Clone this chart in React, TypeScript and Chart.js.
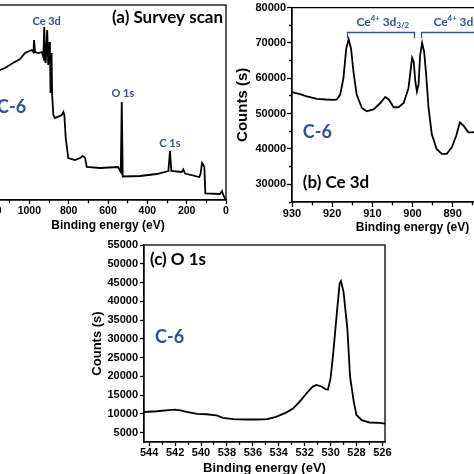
import { useEffect, useRef } from 'react';
import { Chart, registerables } from 'chart.js';

Chart.register(...registerables);

// (a) Survey scan: binding energy (eV) and counts
const surveyEnergy = [
  1200, 1149, 1124, 1083, 1047, 1022, 988, 979, 976, 971, 954, 937, 929, 924, 920, 917, 909, 904, 900, 895,
  892, 887, 884, 878, 870, 835, 827, 822, 815, 802, 768, 742, 729, 717, 708, 641, 549, 535, 530, 525,
  437, 352, 293, 285, 278, 225, 217, 208, 136, 129, 122, 115, 110, 105, 31, 20, 14, 5, 0,
];
const surveyCounts = [
  250000, 260000, 264000, 274000, 282000, 294000, 300000, 296000, 320000, 296000, 294000, 296000, 286000, 346000, 280000, 274000, 340000, 270000, 316000, 296000,
  214000, 294000, 210000, 170000, 164000, 170000, 176000, 170000, 124000, 84000, 80000, 84000, 88000, 85000, 66000, 64000, 66000, 56000, 196000, 47000,
  48000, 52000, 58000, 98000, 58000, 56000, 61000, 53000, 46000, 53000, 74000, 70000, 66000, 13000, 12000, 18000, 10000, 3000, 1500,
];
const surveyTicksX = [0, 100, 200, 300, 400, 500, 600, 700, 800, 900, 1000, 1100, 1200];

// (b) Ce 3d region
const ceEnergy = [
  930, 929.8, 928, 926.3, 923.8, 921.5, 919.6, 918.8, 918.0, 917.2, 916.5, 915.9, 915.3, 914.7, 913.9, 912.6, 911.4, 909.7, 908.0, 906.8,
  905.9, 904.7, 903.5, 902.2, 901.0, 900.1, 899.7, 899.3, 898.9, 898.5, 898.1, 897.6, 897.1, 896.6, 896.0, 895.2, 894.0, 892.7, 891.5, 890.2,
  889.1, 888.2, 887.3, 886.1, 885.3, 884, 882, 880, 876, 872, 870,
];
const ceCounts = [
  56100, 56100, 55500, 54900, 54200, 54000, 53900, 54000, 55400, 60000, 68400, 71000, 68400, 61900, 55400, 51600, 50700, 51200, 53000, 54700,
  54000, 51800, 51800, 53000, 57200, 65800, 64700, 59100, 56300, 58200, 66500, 70000, 67500, 61000, 51600, 44200, 40000, 38600, 38600, 40500,
  43800, 47500, 46600, 44700, 44700, 44800, 45200, 44500, 43000, 42000, 41500,
];
const ceTicksX = [870, 875, 880, 885, 890, 895, 900, 905, 910, 915, 920, 925, 930];
const ceTicksY = [25000, 30000, 35000, 40000, 45000, 50000, 55000, 60000, 65000, 70000, 75000, 80000];

// (c) O 1s region
const oEnergy = [
  544.4, 543.4, 542.5, 542.0, 541.6, 541.1, 540.3, 539.6, 538.8, 538.3, 537.5, 536.5, 535.7, 534.9, 534.2, 533.4, 532.9, 532.4, 531.8, 531.4,
  531.1, 530.7, 530.4, 530.2, 530.0, 529.8, 529.5, 529.3, 529.2, 529.0, 528.7, 528.5, 528.2, 528.0, 527.6, 527.0, 526.2, 525.8,
];
const oCounts = [
  10500, 10700, 11000, 11150, 10900, 10500, 10000, 9900, 9600, 8950, 8600, 8500, 8500, 8600, 9200, 10400, 11400, 13200, 15700, 17200,
  17700, 17300, 16600, 16500, 19500, 26000, 37500, 44800, 45400, 42500, 32500, 20000, 13000, 9700, 8300, 7700, 7600, 7400,
];
const oTicksX = [526, 527, 528, 529, 530, 531, 532, 533, 534, 535, 536, 537, 538, 539, 540, 541, 542, 543, 544];
const oTicksY = [5000, 10000, 15000, 20000, 25000, 30000, 35000, 40000, 45000, 50000, 55000];

const BLUE = '#2E5496';
const TICK_FONT = 'Liberation Sans, Arial, sans-serif';
const NOTE_FONT = 'Lato, "Open Sans", sans-serif';

type Part = { t: string; s?: number; dy?: number };
type Note =
  | { kind: 'text'; parts: Part[]; x: number; y: number; size: number; color: string; align: 'left' | 'center' | 'right' }
  | { kind: 'bracket'; x0: number; x1: number; y: number; y2: number; color: string };

const surveyNotes: Note[] = [
  { kind: 'text', parts: [{ t: 'Ce 3d' }], x: 912, y: 358000, size: 11, color: BLUE, align: 'center' },
  { kind: 'text', parts: [{ t: 'O 1s' }], x: 524, y: 214000, size: 11, color: BLUE, align: 'center' },
  { kind: 'text', parts: [{ t: 'C 1s' }], x: 285, y: 114000, size: 11, color: BLUE, align: 'center' },
  { kind: 'text', parts: [{ t: 'C-6' }], x: 1164, y: 185000, size: 18, color: BLUE, align: 'left' },
  { kind: 'text', parts: [{ t: '(a) Survey scan' }], x: 15, y: 364000, size: 17, color: '#000', align: 'right' },
];

const ceNotes: Note[] = [
  { kind: 'bracket', x0: 916.3, x1: 899.7, y: 73000, y2: 71300, color: BLUE },
  { kind: 'bracket', x0: 898.0, x1: 876, y: 73000, y2: 71300, color: BLUE },
  {
    kind: 'text',
    parts: [{ t: 'Ce' }, { t: '4+', s: 0.65, dy: -4 }, { t: ' 3d' }, { t: '3/2', s: 0.65, dy: 3 }],
    x: 907.4, y: 75800, size: 12, color: BLUE, align: 'center',
  },
  {
    kind: 'text',
    parts: [{ t: 'Ce' }, { t: '4+', s: 0.65, dy: -4 }, { t: ' 3d' }, { t: '5/2', s: 0.65, dy: 3 }],
    x: 894.8, y: 75800, size: 12, color: BLUE, align: 'left',
  },
  { kind: 'text', parts: [{ t: 'C-6' }], x: 927.3, y: 44800, size: 18, color: BLUE, align: 'left' },
  { kind: 'text', parts: [{ t: '(b) Ce 3d' }], x: 927.3, y: 30450, size: 17, color: '#000', align: 'left' },
];

const oNotes: Note[] = [
  { kind: 'text', parts: [{ t: '(c) O 1s' }], x: 543.94, y: 51000, size: 17, color: '#000', align: 'left' },
  { kind: 'text', parts: [{ t: 'C-6' }], x: 543.55, y: 30480, size: 18, color: BLUE, align: 'left' },
];

const framePlugin = {
  id: 'frame',
  afterDatasetsDraw(chart: any) {
    const { ctx, chartArea: a } = chart;
    ctx.save();
    ctx.strokeStyle = '#000';
    ctx.lineWidth = 1.3;
    ctx.strokeRect(a.left, a.top, a.right - a.left, a.bottom - a.top);
    ctx.restore();
  },
};

const notesPlugin = {
  id: 'notes',
  afterDraw(chart: any, _args: any, opts: any) {
    const items: Note[] = opts.items || [];
    const { ctx } = chart;
    const xs = chart.scales.x;
    const ys = chart.scales.y;
    ctx.save();
    for (const n of items) {
      if (n.kind === 'bracket') {
        const x0 = Math.round(xs.getPixelForValue(n.x0)) + 0.5;
        const x1 = Math.round(xs.getPixelForValue(n.x1)) + 0.5;
        const y = Math.round(ys.getPixelForValue(n.y)) + 0.5;
        const y2 = ys.getPixelForValue(n.y2);
        ctx.strokeStyle = n.color;
        ctx.lineWidth = 1.3;
        ctx.beginPath();
        ctx.moveTo(x0, y2);
        ctx.lineTo(x0, y);
        ctx.lineTo(x1, y);
        ctx.lineTo(x1, y2);
        ctx.stroke();
        continue;
      }
      const px = xs.getPixelForValue(n.x);
      const py = ys.getPixelForValue(n.y);
      const widths = n.parts.map((p) => {
        ctx.font = `bold ${n.size * (p.s ?? 1)}px ${NOTE_FONT}`;
        return ctx.measureText(p.t).width;
      });
      const total = widths.reduce((a, b) => a + b, 0);
      let x = n.align === 'left' ? px : n.align === 'center' ? px - total / 2 : px - total;
      ctx.fillStyle = n.color;
      ctx.textAlign = 'left';
      ctx.textBaseline = 'middle';
      n.parts.forEach((p, i) => {
        ctx.font = `bold ${n.size * (p.s ?? 1)}px ${NOTE_FONT}`;
        ctx.fillText(p.t, x, py + (p.dy ?? 0));
        x += widths[i];
      });
    }
    ctx.restore();
  },
};

function points(xs: number[], ys: number[]) {
  return xs.map((x, i) => ({ x, y: ys[i] }));
}

type Geo = {
  padding: { left: number; right: number; top: number; bottom: number };
  yWidth: number;
  xHeight: number;
};

type AxisSpec = {
  min: number;
  max: number;
  ticks: number[];
  labelEvery: number;
  size: number;
  tickLen: number;
  minorLen: number;
  pad: number;
  titleSize: number;
  titlePad: number;
};

function isMultiple(v: number, every: number) {
  return Math.abs(v / every - Math.round(v / every)) < 1e-6;
}

function axisBase(spec: AxisSpec, vertical: boolean) {
  // Minor ticks are drawn shorter by dashing the tick stroke so only the part next to the axis shows.
  const minorDash = vertical ? [0, spec.tickLen - spec.minorLen, spec.minorLen + 1, 40] : [spec.minorLen, 40];
  return {
    type: 'linear',
    min: spec.min,
    max: spec.max,
    afterBuildTicks: (s: any) => {
      s.ticks = spec.ticks.map((value) => ({ value }));
    },
    border: { color: '#000', width: 1.3 },
    grid: {
      drawOnChartArea: false,
      drawTicks: true,
      tickLength: spec.tickLen,
      tickColor: '#000',
      tickWidth: 1.3,
      tickBorderDash: (c: any) => (c.tick && !isMultiple(c.tick.value, spec.labelEvery) ? minorDash : []),
    },
    ticks: {
      autoSkip: false,
      maxRotation: 0,
      padding: spec.pad,
      color: '#000',
      font: { family: TICK_FONT, weight: 'bold', size: spec.size },
      callback: (v: number) => (isMultiple(v, spec.labelEvery) ? String(Math.round(v)) : ''),
    },
  };
}

function makeConfig(opts: { data: { x: number; y: number }[]; geo: Geo; x: AxisSpec; y: AxisSpec | null; yRange?: [number, number]; notes: Note[] }) {
  const { geo, x, y } = opts;
  const scales: any = {
    x: {
      ...axisBase(x, false),
      reverse: true,
      afterFit: (s: any) => {
        s.height = geo.xHeight;
      },
      title: {
        display: true,
        text: 'Binding energy (eV)',
        color: '#000',
        font: { family: TICK_FONT, weight: 'bold', size: x.titleSize },
        padding: { top: 0, bottom: x.titlePad },
      },
    },
  };
  if (y) {
    scales.y = {
      ...axisBase(y, true),
      afterFit: (s: any) => {
        s.width = geo.yWidth;
      },
      title: {
        display: true,
        text: 'Counts (s)',
        color: '#000',
        font: { family: TICK_FONT, weight: 'bold', size: y.titleSize },
        padding: { top: y.titlePad, bottom: 0 },
      },
    };
  } else {
    scales.y = { type: 'linear', display: false, min: opts.yRange![0], max: opts.yRange![1] };
  }
  return {
    type: 'line' as const,
    data: {
      datasets: [
        {
          data: opts.data,
          borderColor: '#000',
          borderWidth: 1.8,
          pointRadius: 0,
          tension: 0,
          fill: false,
        },
      ],
    },
    options: {
      responsive: false,
      animation: false as const,
      layout: { padding: geo.padding, autoPadding: false },
      plugins: {
        legend: { display: false },
        tooltip: { enabled: false },
        notes: { items: opts.notes },
      },
      scales,
    },
    plugins: [framePlugin, notesPlugin],
  };
}

function Panel({ left, top, width, height, config }: { left: number; top: number; width: number; height: number; config: () => any }) {
  const ref = useRef<HTMLCanvasElement>(null);
  useEffect(() => {
    const chart = new Chart(ref.current!, config());
    return () => chart.destroy();
  }, []);
  return (
    <canvas
      ref={ref}
      width={width}
      height={height}
      style={{ position: 'absolute', left, top, width, height, display: 'block' }}
    />
  );
}

export default function App() {
  return (
    <div style={{ position: 'fixed', left: 0, top: 0, width: 474, height: 474, overflow: 'hidden', background: '#fff' }}>
      <Panel
        left={-100}
        top={0}
        width={340}
        height={240}
        config={() =>
          makeConfig({
            data: points(surveyEnergy, surveyCounts),
            geo: { padding: { left: 90, right: 14, top: 5, bottom: 3 }, yWidth: 0, xHeight: 37 },
            x: { min: 0, max: 1200, ticks: surveyTicksX, labelEvery: 200, size: 10.5, tickLen: 4, minorLen: 3, pad: 1, titleSize: 12, titlePad: 4 },
            y: null,
            yRange: [0, 390000],
            notes: surveyNotes,
          })
        }
      />
      <Panel
        left={234}
        top={0}
        width={310}
        height={245}
        config={() =>
          makeConfig({
            data: points(ceEnergy, ceCounts),
            geo: { padding: { left: 0, right: 11, top: 5, bottom: 3 }, yWidth: 58, xHeight: 40 },
            x: { min: 870, max: 930, ticks: ceTicksX, labelEvery: 10, size: 11, tickLen: 5, minorLen: 3, pad: 0, titleSize: 12, titlePad: 7 },
            y: { min: 25000, max: 80000, ticks: ceTicksY, labelEvery: 10000, size: 11, tickLen: 5, minorLen: 3, pad: 1, titleSize: 15, titlePad: 0 },
            notes: ceNotes,
          })
        }
      />
      <Panel
        left={80}
        top={230}
        width={320}
        height={250}
        config={() =>
          makeConfig({
            data: points(oEnergy, oCounts),
            geo: { padding: { left: 10, right: 15, top: 15, bottom: 0 }, yWidth: 54, xHeight: 38 },
            x: { min: 525.8, max: 544.4, ticks: oTicksX, labelEvery: 2, size: 11, tickLen: 4, minorLen: 2.5, pad: 0, titleSize: 13, titlePad: 4 },
            y: { min: 2500, max: 55000, ticks: oTicksY, labelEvery: 5000, size: 11, tickLen: 4, minorLen: 2.5, pad: 2, titleSize: 13, titlePad: 0 },
            notes: oNotes,
          })
        }
      />
    </div>
  );
}
